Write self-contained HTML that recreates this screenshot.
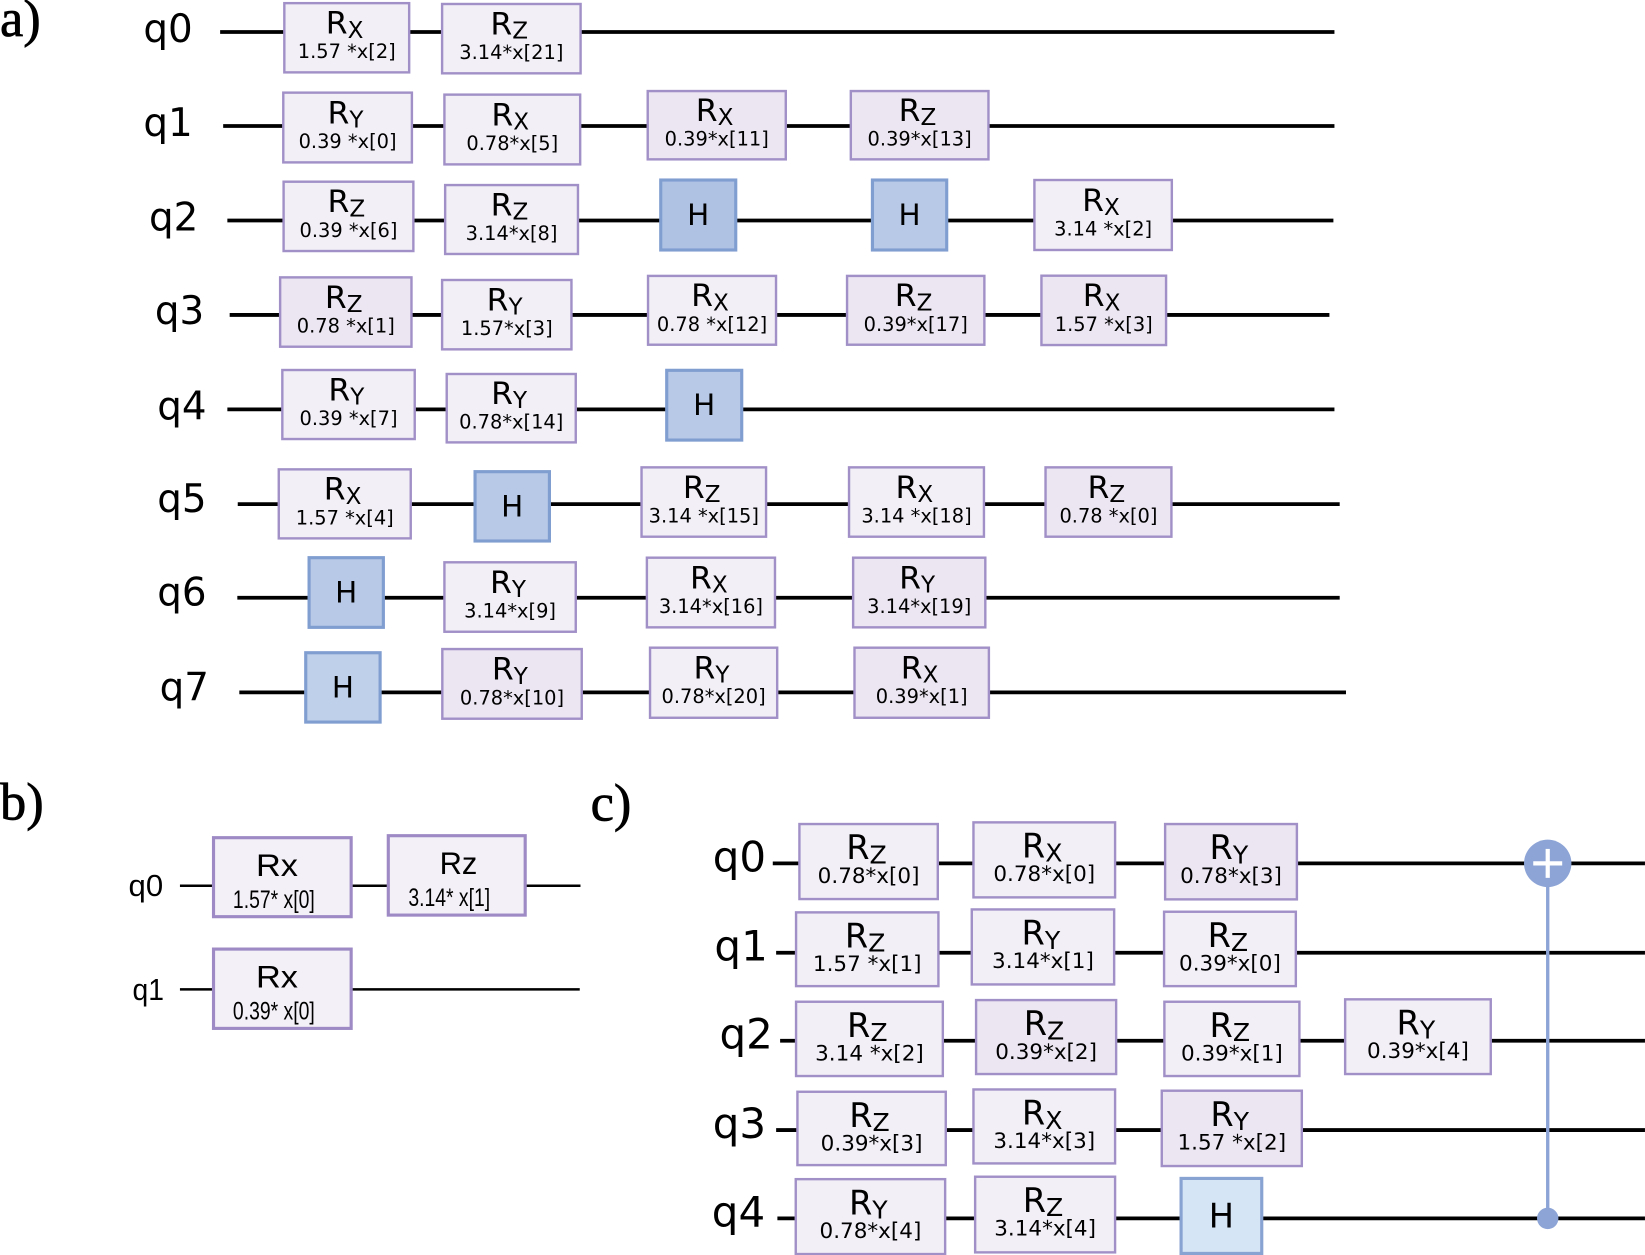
<!DOCTYPE html>
<html>
<head>
<meta charset="utf-8">
<style>
html,body{margin:0;padding:0;background:#fff;}
svg{display:block;}
.w{stroke:#000;stroke-width:3.6;}
.wb{stroke:#000;stroke-width:2.4;}
.g{fill:#f2eff7;stroke:#a190c7;stroke-width:2.3;}
.g2{fill:#ece6f2;stroke:#a190c7;stroke-width:2.3;}
.h{fill:#b7c9e7;stroke:#819ed1;stroke-width:3;}
.hc{fill:#d5e5f6;stroke:#88a2d2;stroke-width:3;}
.gb{fill:#f3f0f7;stroke:#9e8bc5;stroke-width:3;}
text{font-family:"DejaVu Sans","Liberation Sans",sans-serif;fill:#000;}
.ra{font-size:30px;text-anchor:middle;}
.sa{font-size:22px;}
.pa{font-size:18.5px;text-anchor:middle;}
.rc{font-size:32px;text-anchor:middle;}
.sc{font-size:24px;}
.pc{font-size:20.5px;text-anchor:middle;}
.ha{font-size:28px;text-anchor:middle;}
.hcx{font-size:32px;text-anchor:middle;}
.la{font-size:37px;}
.lc{font-size:40px;}
.pl{font-family:"Liberation Serif",serif;font-size:50px;stroke:#000;stroke-width:0.7;}
.bt{font-family:"Liberation Sans",Arial,sans-serif;}
</style>
</head>
<body>
<svg width="1645" height="1255" viewBox="0 0 1568 1196.3" xmlns="http://www.w3.org/2000/svg">

<!-- ================= Panel a ================= -->
<text class="pl" x="0" y="34.5">a)</text>

<line class="w" x1="209.8" y1="30.5" x2="1272" y2="30.5"/>
<line class="w" x1="212.7" y1="120.1" x2="1272" y2="120.1"/>
<line class="w" x1="216.7" y1="210.2" x2="1271" y2="210.2"/>
<line class="w" x1="218.9" y1="300.2" x2="1267.2" y2="300.2"/>
<line class="w" x1="216.7" y1="390.2" x2="1272" y2="390.2"/>
<line class="w" x1="226.6" y1="480.5" x2="1277" y2="480.5"/>
<line class="w" x1="226.2" y1="569.8" x2="1277" y2="569.8"/>
<line class="w" x1="228.1" y1="660" x2="1283" y2="660"/>

<text class="la" x="136.6" y="40">q0</text>
<text class="la" x="136.6" y="129.5">q1</text>
<text class="la" x="142" y="219.5">q2</text>
<text class="la" x="147.6" y="309">q3</text>
<text class="la" x="149.9" y="400">q4</text>
<text class="la" x="149.9" y="488">q5</text>
<text class="la" x="149.9" y="577">q6</text>
<text class="la" x="152.1" y="667.5">q7</text>

<!-- q0 -->
<rect class="g" x="271" y="3" width="119" height="66"/>
<text class="ra" x="328.5" y="32">R<tspan class="sa" dy="4">X</tspan></text>
<text class="pa" x="330.5" y="55.5">1.57 *x[2]</text>

<rect class="g" x="421.4" y="3.8" width="132" height="66.1"/>
<text class="ra" x="485.4" y="32.85">R<tspan class="sa" dy="4">Z</tspan></text>
<text class="pa" x="487.4" y="56.35">3.14*x[21]</text>

<!-- q1 -->
<rect class="g" x="270" y="88.3" width="122.6" height="66.5"/>
<text class="ra" x="329.3" y="117.55">R<tspan class="sa" dy="4">Y</tspan></text>
<text class="pa" x="331.3" y="141.05">0.39 *x[0]</text>

<rect class="g" x="423.6" y="90.2" width="129.4" height="66.5"/>
<text class="ra" x="486.3" y="119.45">R<tspan class="sa" dy="4">X</tspan></text>
<text class="pa" x="488.3" y="142.95">0.78*x[5]</text>

<rect class="g2" x="617.4" y="86.8" width="131.6" height="65.1"/>
<text class="ra" x="681.2" y="115.35">R<tspan class="sa" dy="4">X</tspan></text>
<text class="pa" x="683.2" y="138.85">0.39*x[11]</text>

<rect class="g2" x="811" y="86.8" width="131.2" height="65.1"/>
<text class="ra" x="874.6" y="115.35">R<tspan class="sa" dy="4">Z</tspan></text>
<text class="pa" x="876.6" y="138.85">0.39*x[13]</text>

<!-- q2 -->
<rect class="g" x="270.3" y="173.2" width="123.7" height="66.1"/>
<text class="ra" x="330.15" y="202.25">R<tspan class="sa" dy="4">Z</tspan></text>
<text class="pa" x="332.15" y="225.75">0.39 *x[6]</text>

<rect class="g" x="424.3" y="176.4" width="126.6" height="65.7"/>
<text class="ra" x="485.6" y="205.25">R<tspan class="sa" dy="4">Z</tspan></text>
<text class="pa" x="487.6" y="228.75">3.14*x[8]</text>

<rect class="h" x="629.8" y="171.6" width="71.5" height="66.7" style="fill:#afc2e4"/>
<text class="ha" x="665.55" y="214.45">H</text>

<rect class="h" x="831.6" y="171.6" width="70.8" height="66.7"/>
<text class="ha" x="867" y="214.45">H</text>

<rect class="g" x="986" y="171.6" width="131" height="66.7"/>
<text class="ra" x="1049.5" y="200.95">R<tspan class="sa" dy="4">X</tspan></text>
<text class="pa" x="1051.5" y="224.45">3.14 *x[2]</text>

<!-- q3 -->
<rect class="g2" x="267" y="264.4" width="125.2" height="66.1"/>
<text class="ra" x="327.6" y="293.45">R<tspan class="sa" dy="4">Z</tspan></text>
<text class="pa" x="329.6" y="316.95">0.78 *x[1]</text>

<rect class="g" x="421.4" y="266.9" width="123.3" height="66.1"/>
<text class="ra" x="481.05" y="295.95">R<tspan class="sa" dy="4">Y</tspan></text>
<text class="pa" x="483.05" y="319.45">1.57*x[3]</text>

<rect class="g" x="617.7" y="263" width="122" height="65.6"/>
<text class="ra" x="676.7" y="291.8">R<tspan class="sa" dy="4">X</tspan></text>
<text class="pa" x="678.7" y="315.3">0.78 *x[12]</text>

<rect class="g2" x="807.4" y="263" width="130.9" height="65.6"/>
<text class="ra" x="870.85" y="291.8">R<tspan class="sa" dy="4">Z</tspan></text>
<text class="pa" x="872.85" y="315.3">0.39*x[17]</text>

<rect class="g2" x="992.7" y="262.8" width="118.8" height="66.1"/>
<text class="ra" x="1050.1" y="291.85">R<tspan class="sa" dy="4">X</tspan></text>
<text class="pa" x="1052.1" y="315.35">1.57 *x[3]</text>

<!-- q4 -->
<rect class="g" x="269.1" y="352.7" width="126.2" height="65.8"/>
<text class="ra" x="330.2" y="381.6">R<tspan class="sa" dy="4">Y</tspan></text>
<text class="pa" x="332.2" y="405.1">0.39 *x[7]</text>

<rect class="g" x="425.8" y="356.5" width="123" height="65.2"/>
<text class="ra" x="485.3" y="385.1">R<tspan class="sa" dy="4">Y</tspan></text>
<text class="pa" x="487.3" y="408.6">0.78*x[14]</text>

<rect class="h" x="635.5" y="353" width="71.5" height="66.5"/>
<text class="ha" x="671.25" y="395.75">H</text>

<!-- q5 -->
<rect class="g" x="265.7" y="447.4" width="125.8" height="65.8"/>
<text class="ra" x="326.6" y="476.3">R<tspan class="sa" dy="4">X</tspan></text>
<text class="pa" x="328.6" y="499.8">1.57 *x[4]</text>

<rect class="h" x="452.8" y="449.6" width="70.9" height="66.1"/>
<text class="ha" x="488.25" y="492.15">H</text>

<rect class="g" x="611.5" y="445.5" width="118.7" height="66.1"/>
<text class="ra" x="668.85" y="474.55">R<tspan class="sa" dy="4">Z</tspan></text>
<text class="pa" x="670.85" y="498.05">3.14 *x[15]</text>

<rect class="g" x="809.3" y="445.5" width="128.6" height="66.1"/>
<text class="ra" x="871.6" y="474.55">R<tspan class="sa" dy="4">X</tspan></text>
<text class="pa" x="873.6" y="498.05">3.14 *x[18]</text>

<rect class="g2" x="996.6" y="445.5" width="120" height="66.1"/>
<text class="ra" x="1054.6" y="474.55">R<tspan class="sa" dy="4">Z</tspan></text>
<text class="pa" x="1056.6" y="498.05">0.78 *x[0]</text>

<!-- q6 -->
<rect class="h" x="294.6" y="531.6" width="70.8" height="66.4"/>
<text class="ha" x="330" y="574.3">H</text>

<rect class="g" x="423.6" y="536" width="125.2" height="66.2"/>
<text class="ra" x="484.2" y="565.1">R<tspan class="sa" dy="4">Y</tspan></text>
<text class="pa" x="486.2" y="588.6">3.14*x[9]</text>

<rect class="g" x="616.6" y="531.6" width="122.1" height="66.4"/>
<text class="ra" x="675.65" y="560.8">R<tspan class="sa" dy="4">X</tspan></text>
<text class="pa" x="677.65" y="584.3">3.14*x[16]</text>

<rect class="g2" x="813.2" y="531.6" width="126" height="66.4"/>
<text class="ra" x="874.2" y="560.8">R<tspan class="sa" dy="4">Y</tspan></text>
<text class="pa" x="876.2" y="584.3">3.14*x[19]</text>

<!-- q7 -->
<rect class="h" x="291.4" y="622.2" width="70.9" height="66.1" style="fill:#bfd0ea"/>
<text class="ha" x="326.85" y="664.75">H</text>

<rect class="g2" x="421.6" y="618.7" width="132.9" height="66.4"/>
<text class="ra" x="486.05" y="647.9">R<tspan class="sa" dy="4">Y</tspan></text>
<text class="pa" x="488.05" y="671.4">0.78*x[10]</text>

<rect class="g" x="619.6" y="617.4" width="121.2" height="66.8"/>
<text class="ra" x="678.2" y="646.8">R<tspan class="sa" dy="4">Y</tspan></text>
<text class="pa" x="680.2" y="670.3">0.78*x[20]</text>

<rect class="g2" x="814.5" y="617.4" width="128.1" height="66.8"/>
<text class="ra" x="876.55" y="646.8">R<tspan class="sa" dy="4">X</tspan></text>
<text class="pa" x="878.55" y="670.3">0.39*x[1]</text>

<!-- ================= Panel b ================= -->
<text class="pl" x="0" y="781">b)</text>

<line class="wb" x1="171.5" y1="844.3" x2="553.3" y2="844.3"/>
<line class="wb" x1="171.5" y1="943.1" x2="552.6" y2="943.1"/>

<text class="bt" x="122.5" y="854" font-size="29" textLength="33" lengthAdjust="spacingAndGlyphs">q0</text>
<text class="bt" x="126.3" y="953" font-size="29" textLength="30" lengthAdjust="spacingAndGlyphs">q1</text>

<rect class="gb" x="203.5" y="798.5" width="131.2" height="75.3"/>
<text class="bt" x="264" y="835.1" font-size="30" text-anchor="middle" textLength="40" lengthAdjust="spacingAndGlyphs">Rx</text>
<text class="bt" x="261" y="865.5" font-size="24" text-anchor="middle" textLength="78" lengthAdjust="spacingAndGlyphs">1.57* x[0]</text>

<rect class="gb" x="370.1" y="796.6" width="130.5" height="75.7"/>
<text class="bt" x="437" y="833.2" font-size="30" text-anchor="middle" textLength="36" lengthAdjust="spacingAndGlyphs">Rz</text>
<text class="bt" x="428.2" y="863.6" font-size="24" text-anchor="middle" textLength="78" lengthAdjust="spacingAndGlyphs">3.14* x[1]</text>

<rect class="gb" x="203.5" y="904.7" width="131.2" height="75.6"/>
<text class="bt" x="264" y="941.3" font-size="30" text-anchor="middle" textLength="40" lengthAdjust="spacingAndGlyphs">Rx</text>
<text class="bt" x="261" y="971.7" font-size="24" text-anchor="middle" textLength="78" lengthAdjust="spacingAndGlyphs">0.39* x[0]</text>

<!-- ================= Panel c ================= -->
<text class="pl" x="563" y="782">c)</text>

<line class="w" x1="736.6" y1="823" x2="1568" y2="823"/>
<line class="w" x1="739.8" y1="908.2" x2="1568" y2="908.2"/>
<line class="w" x1="743.6" y1="992.1" x2="1568" y2="992.1"/>
<line class="w" x1="739.8" y1="1077.2" x2="1568" y2="1077.2"/>
<line class="w" x1="741" y1="1161.4" x2="1568" y2="1161.4"/>

<text class="lc" x="679.4" y="830.5">q0</text>
<text class="lc" x="681" y="915.7">q1</text>
<text class="lc" x="685.8" y="999.6">q2</text>
<text class="lc" x="679.4" y="1084.7">q3</text>
<text class="lc" x="678.5" y="1169">q4</text>

<!-- q0 -->
<rect class="g" x="762" y="785.5" width="131.9" height="71.5"/>
<text class="rc" x="825.95" y="819">R<tspan class="sc" dy="4">Z</tspan></text>
<text class="pc" x="827.95" y="841.5">0.78*x[0]</text>

<rect class="g" x="927.9" y="783.9" width="135" height="71.5"/>
<text class="rc" x="993.4" y="817.4">R<tspan class="sc" dy="4">X</tspan></text>
<text class="pc" x="995.4" y="839.9">0.78*x[0]</text>

<rect class="g2" x="1110.6" y="785.5" width="125.6" height="71.8"/>
<text class="rc" x="1171.4" y="819">R<tspan class="sc" dy="4">Y</tspan></text>
<text class="pc" x="1173.4" y="841.5">0.78*x[3]</text>

<!-- q1 -->
<rect class="g" x="758.8" y="869.7" width="135.7" height="70.3"/>
<text class="rc" x="824.65" y="903.2">R<tspan class="sc" dy="4">Z</tspan></text>
<text class="pc" x="826.65" y="925.7">1.57 *x[1]</text>

<rect class="g" x="926.3" y="866.9" width="135.7" height="71.5"/>
<text class="rc" x="992.15" y="900.4">R<tspan class="sc" dy="4">Y</tspan></text>
<text class="pc" x="994.15" y="922.9">3.14*x[1]</text>

<rect class="g" x="1109.6" y="869.1" width="125.6" height="70.9"/>
<text class="rc" x="1170.4" y="902.6">R<tspan class="sc" dy="4">Z</tspan></text>
<text class="pc" x="1172.4" y="925.1">0.39*x[0]</text>

<!-- q2 -->
<rect class="g" x="758.8" y="954.9" width="139.9" height="70.8"/>
<text class="rc" x="826.75" y="988.4">R<tspan class="sc" dy="4">Z</tspan></text>
<text class="pc" x="828.75" y="1010.9">3.14 *x[2]</text>

<rect class="g2" x="930.4" y="953.3" width="133.5" height="70.5"/>
<text class="rc" x="995.15" y="986.8">R<tspan class="sc" dy="4">Z</tspan></text>
<text class="pc" x="997.15" y="1009.3">0.39*x[2]</text>

<rect class="g" x="1109.9" y="954.9" width="128.7" height="70.8"/>
<text class="rc" x="1172.25" y="988.4">R<tspan class="sc" dy="4">Z</tspan></text>
<text class="pc" x="1174.25" y="1010.9">0.39*x[1]</text>

<rect class="g" x="1282.2" y="952.6" width="138.8" height="71.2"/>
<text class="rc" x="1349.6" y="986.1">R<tspan class="sc" dy="4">Y</tspan></text>
<text class="pc" x="1351.6" y="1008.6">0.39*x[4]</text>

<!-- q3 -->
<rect class="g" x="760.1" y="1040.7" width="141.4" height="69.9"/>
<text class="rc" x="828.8" y="1074.2">R<tspan class="sc" dy="4">Z</tspan></text>
<text class="pc" x="830.8" y="1096.7">0.39*x[3]</text>

<rect class="g" x="927.9" y="1038.5" width="135" height="70.5"/>
<text class="rc" x="993.4" y="1072">R<tspan class="sc" dy="4">X</tspan></text>
<text class="pc" x="995.4" y="1094.5">3.14*x[3]</text>

<rect class="g2" x="1107.4" y="1039.7" width="133.5" height="71.8"/>
<text class="rc" x="1172.15" y="1073.2">R<tspan class="sc" dy="4">Y</tspan></text>
<text class="pc" x="1174.15" y="1095.7">1.57 *x[2]</text>

<!-- q4 -->
<rect class="g" x="758.5" y="1124" width="142.4" height="71.4"/>
<text class="rc" x="827.7" y="1157.5">R<tspan class="sc" dy="4">Y</tspan></text>
<text class="pc" x="829.7" y="1180">0.78*x[4]</text>

<rect class="g" x="929.5" y="1121.7" width="133.4" height="72.1"/>
<text class="rc" x="994.2" y="1155.2">R<tspan class="sc" dy="4">Z</tspan></text>
<text class="pc" x="996.2" y="1177.7">3.14*x[4]</text>

<rect class="hc" x="1125.8" y="1123.3" width="76.9" height="71.5"/>
<text class="hcx" x="1164.25" y="1170">H</text>

<!-- CNOT -->
<line x1="1475.3" y1="823" x2="1475.3" y2="1161.4" stroke="#8ca4d6" stroke-width="3.2"/>
<circle cx="1475.3" cy="823" r="22.6" fill="#8ca4d6"/>
<line x1="1461.5" y1="823" x2="1489.1" y2="823" stroke="#fff" stroke-width="4"/>
<line x1="1475.3" y1="809.2" x2="1475.3" y2="836.8" stroke="#fff" stroke-width="4"/>
<circle cx="1475.3" cy="1161.4" r="10.2" fill="#8ca4d6"/>

</svg>
</body>
</html>
